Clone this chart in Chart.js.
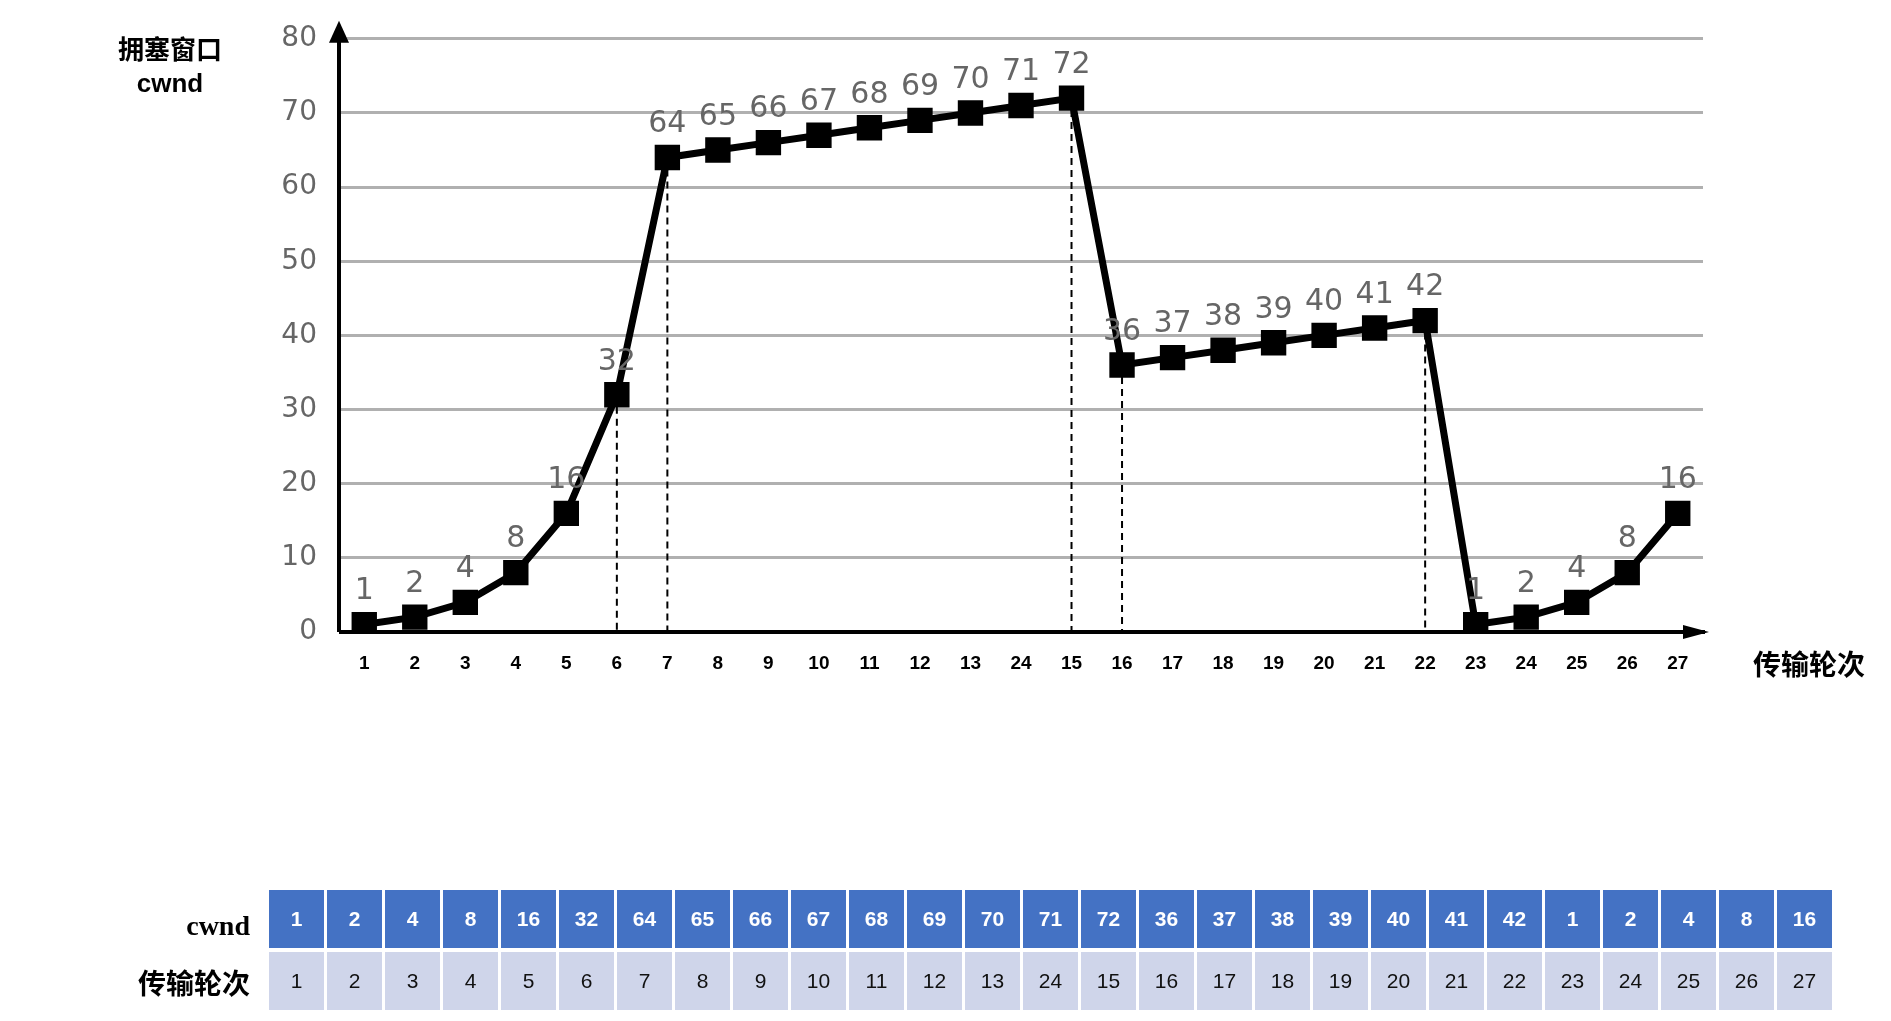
<!DOCTYPE html>
<html>
<head>
<meta charset="utf-8">
<script src="https://cdn.jsdelivr.net/npm/chart.js@4"></script>
<style>
  body { margin: 0; background: #fff; width: 1891px; height: 1021px; overflow: hidden; font-family: "Liberation Sans", Arial, sans-serif; }
  #wrap { position: absolute; left: 0; top: 0; width: 1891px; height: 1021px; }
  #tbl { position: absolute; left: 266px; top: 886px; border-collapse: separate; border-spacing: 3px 4px; }
  #tbl td { width: 55px; text-align: center; font-size: 21px; padding: 0; }
  #tbl tr.r1 td { background: #4472c4; color: #fff; font-weight: bold; height: 58px; }
  #tbl tr.r2 td { background: #cfd5ea; color: #111; height: 58px; }
  .hdr { position: absolute; font-weight: bold; color: #000; text-align: right; width: 200px; }
</style>
</head>
<body>
<div id="wrap"><canvas id="c" width="1891" height="1021"></canvas></div>
<div class="hdr" style="left:50px;top:910px;font-family:'Liberation Serif',serif;font-size:28px;">cwnd</div>
<div class="hdr" style="left:50px;top:962px;font-family:'Noto Sans CJK SC',sans-serif;font-size:28px;">传输轮次</div>
<table id="tbl"><tr class="r1"></tr><tr class="r2"></tr></table>
<script>
const rounds = ['1','2','3','4','5','6','7','8','9','10','11','12','13','24','15','16','17','18','19','20','21','22','23','24','25','26','27'];
const cwnd = [1,2,4,8,16,32,64,65,66,67,68,69,70,71,72,36,37,38,39,40,41,42,1,2,4,8,16];
const dashedAt = [5, 6, 14, 15, 21];

const r1 = document.querySelector('#tbl .r1');
const r2 = document.querySelector('#tbl .r2');
cwnd.forEach((v, i) => {
  r1.insertAdjacentHTML('beforeend', '<td>' + v + '</td>');
  r2.insertAdjacentHTML('beforeend', '<td>' + rounds[i] + '</td>');
});

const extras = {
  id: 'extras',
  afterDatasetsDraw(chart) {
    const ctx = chart.ctx;
    const x = chart.scales.x, y = chart.scales.y;
    const meta = chart.getDatasetMeta(0);
    ctx.save();
    // dashed drop lines
    ctx.strokeStyle = '#000';
    ctx.lineWidth = 2;
    ctx.setLineDash([7, 5]);
    dashedAt.forEach(i => {
      const p = meta.data[i];
      ctx.beginPath();
      ctx.moveTo(p.x, p.y);
      ctx.lineTo(p.x, y.bottom);
      ctx.stroke();
    });
    ctx.setLineDash([]);
    // axes with arrows
    ctx.lineWidth = 4;
    ctx.beginPath();
    ctx.moveTo(x.left, y.bottom); ctx.lineTo(x.left, y.top - 4);
    ctx.moveTo(x.left, y.bottom); ctx.lineTo(x.right + 2, y.bottom);
    ctx.stroke();
    ctx.fillStyle = '#000';
    ctx.beginPath();
    ctx.moveTo(x.left, y.top - 18); ctx.lineTo(x.left - 10, y.top + 4); ctx.lineTo(x.left + 10, y.top + 4);
    ctx.fill();
    ctx.beginPath();
    ctx.moveTo(x.right + 6, y.bottom); ctx.lineTo(x.right - 20, y.bottom - 7); ctx.lineTo(x.right - 20, y.bottom + 7);
    ctx.fill();
    // value labels
    ctx.fillStyle = '#666';
    ctx.font = '30px "DejaVu Sans", sans-serif';
    ctx.textAlign = 'center';
    ctx.textBaseline = 'bottom';
    meta.data.forEach((p, i) => ctx.fillText(cwnd[i], p.x, p.y - 18));
    // axis titles
    ctx.fillStyle = '#000';
    ctx.font = 'bold 26px "Noto Sans CJK SC", sans-serif';
    ctx.fillText('拥塞窗口', 170, 62);
    ctx.font = 'bold 26px "Liberation Sans", sans-serif';
    ctx.fillText('cwnd', 170, 98);
    ctx.font = 'bold 28px "Noto Sans CJK SC", sans-serif';
    ctx.textAlign = 'left';
    ctx.fillText('传输轮次', 1753, 678);
    ctx.restore();
  }
};

new Chart(document.getElementById('c'), {
  type: 'line',
  data: {
    labels: rounds,
    datasets: [{
      data: cwnd,
      borderColor: '#000',
      borderWidth: 7,
      pointStyle: 'rect',
      pointRadius: 13,
      pointBackgroundColor: '#000',
      pointBorderColor: '#000',
      tension: 0
    }]
  },
  options: {
    responsive: false,
    animation: false,
    layout: { padding: { left: 249, right: 188, top: 34, bottom: 329 } },
    plugins: { legend: { display: false }, tooltip: { enabled: false } },
    scales: {
      x: {
        offset: true,
        grid: { display: false },
        border: { display: false },
        ticks: { color: '#000', font: { size: 19, weight: 'bold', family: 'Liberation Sans' }, padding: 12, maxRotation: 0, autoSkip: false },
        afterFit: s => { s.height = 60; }
      },
      y: {
        min: 0, max: 80,
        ticks: { stepSize: 10, color: '#666', font: { size: 28, family: 'DejaVu Sans' }, padding: 22 },
        grid: { color: '#b0b0b0', lineWidth: 3, drawTicks: false },
        border: { display: false },
        afterFit: s => { s.width = 90; }
      }
    }
  },
  plugins: [extras]
});
</script>
</body>
</html>
